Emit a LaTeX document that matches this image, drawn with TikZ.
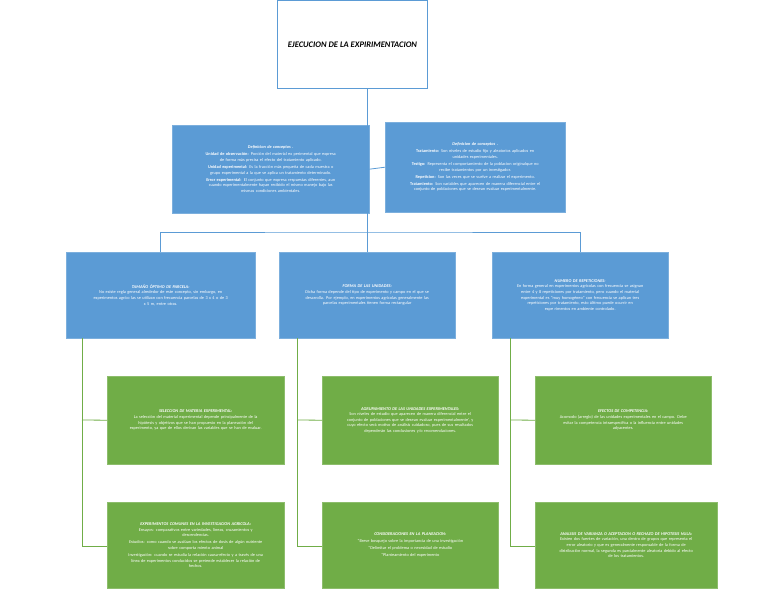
\documentclass[tikz,border=0pt]{standalone}
\usepackage{fontspec}
\setmainfont{Carlito}
\definecolor{bl}{HTML}{5B9BD5}
\definecolor{gr}{HTML}{70AD47}
\begin{document}
\begin{tikzpicture}[x=1pt,y=-1pt,
  bbox/.style={fill=bl,draw=bl!80!white,text=white,font=\fontsize{4.3}{5.6}\selectfont,align=center,inner sep=1pt,anchor=north west},
  gbox/.style={fill=gr,draw=gr!80!white,text=white,font=\fontsize{4.3}{5.6}\selectfont,align=center,inner sep=1pt,anchor=north west},
  bl line/.style={draw=bl,line width=0.8pt},
  gr line/.style={draw=gr,line width=0.8pt}]
\useasboundingbox (0,0) rectangle (768,594);
\node[draw=bl,line width=0.8pt,minimum width=150pt,minimum height=88pt,anchor=north west,font=\fontsize{8.5}{10}\selectfont\bfseries\itshape] (t) at (277,0) {EJECUCION DE LA EXPIRIMENTACION};
\node[bbox,minimum width=197pt,minimum height=88pt,text width=193pt] (d1) at (172,125) {\textbf{\textit{Definicion de conceptos .}}\\[1.5pt]
\textbf{Unidad de observación:} Porción del material ex  perimental que expresa\\ de forma más precisa el efecto del tratamiento aplicado.\\[1.5pt]
\textbf{Unidad experimental:} Es la fracción más pequeña de cada muestra o\\ grupo experimental a la que se aplica un tratamiento determinado.\\[1.5pt]
\textbf{Error experimental:} El conjunto que expresa respuestas diferentes, aun\\ cuando experimentalmente hayan recibido el mismo manejo bajo las\\ mismas condiciones ambientales.\\[14pt]};
\node[bbox,minimum width=180pt,minimum height=90pt,text width=176pt] (d2) at (385,122) {\textbf{\textit{Definicion de conceptos .}}\\[1.5pt]
\textbf{Tratamiento:} Son niveles de estudio fijo y aleatorios aplicados en\\ unidades experimentales.\\[1.5pt]
\textbf{Testigo:} Representa el comportamiento de la poblacion originalque no\\ recibe tratamientos por un investigador.\\[1.5pt]
\textbf{Repeticion:} Son las veces que se vuelve a realizar el experimento.\\[1.5pt]
\textbf{Tratamiento:} Son variables que aparecen de manera diferencial entre el\\ conjunto de poblaciones que se desean evaluar experimentalmente.\\[18pt]};
\node[bbox,minimum width=189pt,minimum height=86pt,text width=187pt] (m1) at (66,252) {\textbf{\textit{TAMAÑO ÓPTIMO DE PARCELA:}}\\
No existe regla general alrededor de este concepto, sin embargo, en\\ experimentos agríco  las se utilizan con frecuencia parcelas de 3 x 4 o de 3\\ x 5 m, entre otras.};
\node[bbox,minimum width=176pt,minimum height=86pt,text width=174pt] (m2) at (279,252) {\textbf{\textit{FORMA DE LAS UNIDADES:}}\\
Dicha forma depende del tipo de experimento y campo en el que se\\ desarrolla. Por ejemplo, en experimentos agrícolas generalmente las\\ parcelas experimentales tienen forma rectangular};
\node[bbox,minimum width=176pt,minimum height=86pt,text width=174pt] (m3) at (492,252) {\textbf{\textit{NUMERO DE REPETICIONES:}}\\
En forma general en experimentos agrícolas con frecuencia se asignan\\ entre 4 y 8 repeticiones por tratamiento, pero cuando el material\\ experimental es ``muy homogéneo'' con frecuencia se aplican tres\\ repeticiones por tratamiento, esto último puede ocurrir en\\ expe  rimentos en ambiente controlado.};
\node[gbox,minimum width=177pt,minimum height=88pt,text width=175pt] (g1) at (107,376) {\textbf{\textit{SELECCION DE  MATERIA EXPERIMENTAL:}}\\
La selección del material experimental depende principalmente de la\\ hipótesis y objetivos que se han propuesto en la planeación del\\ experimento, ya que de ellos derivan las variables que se han de evaluar.};
\node[gbox,minimum width=176pt,minimum height=88pt,text width=174pt] (g2) at (322,376) {\textbf{\textit{AGRUPAMIENTO DE LAS UNIDADES EXPERIMENTALES:}}\\
Son niveles de estudio que aparecen de manera diferencial entre el\\ conjunto de poblaciones que se desean evaluar experimentalmente', y\\ cuyo efecto será motivo de análisis cuidadoso, pues de sus resultados\\ dependerán las conclusiones y/o recomendaciones.};
\node[gbox,minimum width=176pt,minimum height=88pt,text width=174pt] (g3) at (535,376) {\textbf{\textit{EFECTOS DE COMPETENCIA:}}\\
Acomodo (arreglo) de las unidades experimentales en el campo. Debe\\ evitar la competencia intraespecífica o la influencia entre unidades\\ adyacentes.};
\node[gbox,minimum width=177pt,minimum height=86pt,text width=175pt] (g4) at (107,502) {\textbf{\textit{EXPERIMENTOS COMUNES EN LA INVESTIGACION AGRICOLA:}}\\
Ensayos: comparativos entre variedades, líneas, cruzamientos y\\ descendencias.\\[1.5pt]
Estudios: como cuando se avalúan los efectos de dosis de algún nutriente\\ sobre comporta  miento animal\\[1.5pt]
Investigación: cuando se estudia la relación causa-efecto y a través de una\\ línea de experimentos conducidos se pretende establecer la relación de\\ hechos.};
\node[gbox,minimum width=176pt,minimum height=86pt,text width=174pt] (g5) at (322,502) {\textbf{\textit{CONSIDERACIONES EN LA PLANEACION:}}\\[1.5pt]
*Breve bosquejo sobre la importancia de una investigación\\[1.5pt]
*Delimitar el problema o necesidad de estudio\\[1.5pt]
*Planteamiento del experimento\\[6pt]};
\node[gbox,minimum width=176pt,minimum height=86pt,text width=180pt] (g6) at (535,502) {\textbf{\textit{ANALISIS DE VARIANZA O ACEPTACION O RECHAZO DE HIPOTESIS NULA:}}\\
Existen dos fuentes de variación, una dentro de grupos que representa el\\ error aleatorio y que es generalmente responsable de la forma de\\ distribución normal, la segunda es parcialmente aleatoria debido al efecto\\ de los tratamientos.\\[6pt]};
% blue connectors
\coordinate (bus) at (367,232);
\draw[bl line] (t.south -| bus) -- (bus);
\draw[bl line] (d1.east) -- (d2.west);
\draw[bl line] (m1.north) |- (bus) -| (m3.north);
\draw[bl line] (bus) -- (m2.north -| bus);
% green connectors
\foreach \m/\x/\a/\b in {m1/82/g1/g4, m2/297/g2/g5, m3/510/g3/g6}{
  \draw[gr line] (\x,338) -- (\x,546);
  \draw[gr line] (\x,420) -- (\a.west);
  \draw[gr line] (\x,546) -- (\b.west |- 0,546);
}
\end{tikzpicture}
\end{document}
